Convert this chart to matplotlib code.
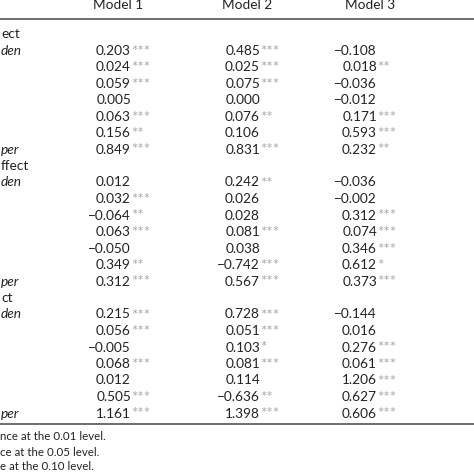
import matplotlib.pyplot as plt

models = ['Model 1', 'Model 2', 'Model 3']
row_labels = ['ect', 'den', '', '', '', '', '', 'per',
              'ffect', 'den', '', '', '', '', '', 'per',
              'ct', 'den', '', '', '', '', '', 'per']
italic_labels = ['den', 'per']
m1 = ['', '0.203***', '0.024***', '0.059***', '0.005', '0.063***', '0.156**', '0.849***',
      '', '0.012', '0.032***', '−0.064**', '0.063***', '−0.050', '0.349**', '0.312***',
      '', '0.215***', '0.056***', '−0.005', '0.068***', '0.012', '0.505***', '1.161***']
m2 = ['', '0.485***', '0.025***', '0.075***', '0.000', '0.076**', '0.106', '0.831***',
      '', '0.242**', '0.026', '0.028', '0.081***', '0.038', '−0.742***', '0.567***',
      '', '0.728***', '0.051***', '0.103*', '0.081***', '0.114', '−0.636**', '1.398***']
m3 = ['', '−0.108', '0.018**', '−0.036', '−0.012', '0.171***', '0.593***', '0.232**',
      '', '−0.036', '−0.002', '0.312***', '0.074***', '0.346***', '0.612*', '0.373***',
      '', '−0.144', '0.016', '0.276***', '0.061***', '1.206***', '0.627***', '0.606***']
footnotes = ['nce at the 0.01 level.', 'ce at the 0.05 level.', 'e at the 0.10 level.']

plt.rcParams['font.family'] = ['Lato', 'DejaVu Sans']
fig = plt.figure(figsize=(4.74, 4.74), dpi=100)
ax = fig.add_axes([0, 0, 1, 1])
ax.set_xlim(0, 474)
ax.set_ylim(474, 0)
ax.axis('off')

fs = 9.8
header_x = [118, 247, 370]
split_x = [131, 260, 377]
for name, hx in zip(models, header_x):
    ax.text(hx, 5, name, ha='center', va='center', fontsize=fs, color='#222222')
ax.plot([0, 474], [19, 19], color='#555555', lw=1.2)
ax.plot([0, 474], [424, 424], color='#555555', lw=1.2)

y0, step = 34, 16.5
for i, lab in enumerate(row_labels):
    y = y0 + i * step
    if lab:
        ax.text(1, y, lab, ha='left', va='center', fontsize=fs, color='#222222',
                style='italic' if lab in italic_labels else 'normal')
    for col, sx in zip([m1, m2, m3], split_x):
        v = col[i]
        if not v:
            continue
        num = v.rstrip('*')
        stars = v[len(num):]
        ax.text(sx, y, num, ha='right', va='center', fontsize=fs, color='#222222')
        if stars:
            ax.text(sx, y + 1, stars, ha='left', va='center', fontsize=fs + 1, color='#aaaaaa')

for j, f in enumerate(footnotes):
    ax.text(0, 437 + j * 15, f, ha='left', va='center', fontsize=fs - 1.5, color='#222222')

fig.savefig('out.png', dpi=100)
